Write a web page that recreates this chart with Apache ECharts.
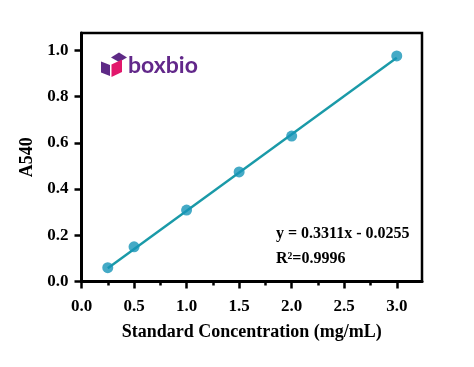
<!DOCTYPE html>
<html><head><meta charset="utf-8">
<script src="https://cdn.jsdelivr.net/npm/echarts@6/dist/echarts.min.js"></script>
<style>html,body{margin:0;padding:0;background:#fff}#c{width:474px;height:367px}</style>
</head><body><div id="c"></div>
<script>
const concentrations = [0.25, 0.5, 1.0, 1.5, 2.0, 3.0];
const absorbance = [0.060, 0.150, 0.309, 0.474, 0.629, 0.976];
const fitLine = [[0.25, 0.057], [3.0, 0.968]];
const xMajorTicks = [0, 0.5, 1.0, 1.5, 2.0, 2.5, 3.0];
const xMinorTicks = [0.25, 0.75, 1.25, 1.75, 2.25, 2.75];
const yTicks = [0, 0.2, 0.4, 0.6, 0.8, 1.0];
const equationText = 'y = 0.3311x - 0.0255';
const r2Text = 'R²=0.9996';
const xTitle = 'Standard Concentration (mg/mL)';
const yTitle = 'A540';

const serif = '"Liberation Serif", "Times New Roman", serif';
const chart = echarts.init(document.getElementById('c'), null, {renderer: 'canvas'});
chart.setOption({
  animation: false,
  grid: {left: 81.5, right: 52, top: 33, bottom: 85.5, show: true, borderColor: '#000', borderWidth: 2.5, containLabel: false},
  xAxis: [{
    type: 'value', min: 0, max: 3.24, position: 'bottom',
    name: xTitle, nameLocation: 'middle', nameGap: 42,
    nameTextStyle: {fontFamily: serif, fontWeight: 'bold', fontSize: 18, color: '#000'},
    axisLine: {show: true, onZero: false, lineStyle: {color: '#000', width: 3}},
    axisTick: {show: true, customValues: xMajorTicks, length: 7, lineStyle: {color: '#000', width: 2.5}},
    axisLabel: {customValues: xMajorTicks, formatter: v => v.toFixed(1), margin: 17, fontFamily: serif, fontWeight: 'bold', fontSize: 17, color: '#000'},
    splitLine: {show: false}
  }, {
    type: 'value', min: 0, max: 3.24, position: 'bottom',
    axisLine: {show: false},
    axisTick: {show: true, customValues: xMinorTicks, length: 4, lineStyle: {color: '#000', width: 2.5}},
    axisLabel: {show: false},
    splitLine: {show: false}
  }],
  yAxis: {
    type: 'value', min: 0, max: 1.075,
    name: yTitle, nameLocation: 'middle', nameGap: 45, nameRotate: 90,
    nameTextStyle: {fontFamily: serif, fontWeight: 'bold', fontSize: 18, color: '#000'},
    axisLine: {show: true, onZero: false, lineStyle: {color: '#000', width: 3}},
    axisTick: {show: true, customValues: yTicks, length: 7, lineStyle: {color: '#000', width: 2.5}},
    axisLabel: {customValues: yTicks, formatter: v => v.toFixed(1), margin: 13, fontFamily: serif, fontWeight: 'bold', fontSize: 17, color: '#000'},
    splitLine: {show: false}
  },
  series: [{
    type: 'line', data: fitLine, symbol: 'none', z: 2,
    lineStyle: {color: '#1a9aa8', width: 2.4}
  }, {
    type: 'scatter', data: concentrations.map((x, i) => [x, absorbance[i]]),
    symbol: 'circle', symbolSize: 11, z: 3,
    itemStyle: {color: '#1795b8'}
  }],
  graphic: [
    {type: 'text', left: 276, top: 226, style: {text: equationText, font: 'bold 16px ' + serif, fill: '#000'}},
    {type: 'text', left: 276, top: 251, style: {text: r2Text, font: 'bold 16px ' + serif, fill: '#000'}},
    {type: 'polygon', shape: {points: [[111, 57.5], [119, 52.5], [127, 57.5], [119, 62]]}, style: {fill: '#5e2a86'}},
    {type: 'polygon', shape: {points: [[101, 61.5], [110, 65], [110, 76], [101, 72.5]]}, style: {fill: '#5e2a86'}},
    {type: 'polygon', shape: {points: [[111.5, 64.5], [122, 59.5], [122, 72], [111.5, 77]]}, style: {fill: '#e2176c'}},
    {type: 'text', left: 128, top: 54, style: {text: 'boxbio', font: 'bold 23px Lato, "Open Sans", sans-serif', fill: '#62288a'}}
  ]
});
</script></body></html>
